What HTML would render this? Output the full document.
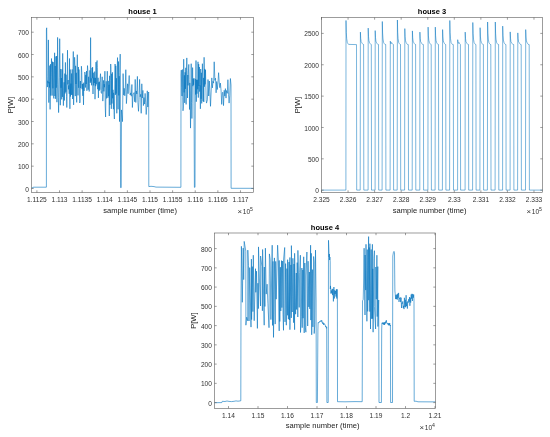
<!DOCTYPE html>
<html><head><meta charset="utf-8"><title>figure</title>
<style>
html,body{margin:0;padding:0;background:#fff;}
body{width:550px;height:437px;overflow:hidden;}
svg{display:block;font-family:"Liberation Sans",sans-serif;}
.tk{font-size:6.6px;fill:#303030;}
.lb{font-size:7.6px;fill:#222;}
.tt{font-size:7.5px;font-weight:bold;fill:#000;}
.ax{stroke:#5a5a5a;stroke-width:0.6;fill:none;}
.ln{stroke:#0072BD;fill:none;stroke-linejoin:round;}
</style></head><body>
<svg width="550" height="437" viewBox="0 0 550 437">
<rect width="550" height="437" fill="#fff"/>
<g id="ax1">
<polyline class="ln" stroke-width="0.6" points="31.5,187.9 33.0,187.8 33.2,187.2 46.0,187.2 46.4,187.2 46.4,30.0 46.7,27.8 47.1,76.8 47.4,87.1 47.8,80.8 48.1,83.2 48.4,39.9 48.8,102.6 49.1,82.0 49.5,87.5 49.8,65.6 50.1,109.4 50.5,64.2 50.8,95.6 51.2,72.9 51.5,58.5 51.8,76.1 52.2,95.6 52.5,61.7 52.9,88.3 53.2,62.1 53.5,96.5 53.9,98.5 54.2,83.1 54.6,52.8 54.9,96.1 55.2,66.0 55.6,98.8 55.9,56.5 56.3,87.7 56.6,56.0 56.9,102.2 57.3,84.7 57.6,37.4 58.0,77.0 58.3,97.5 58.6,112.6 59.0,92.2 59.3,77.3 59.7,38.7 60.0,64.9 60.3,105.2 60.7,69.0 61.0,87.8 61.4,78.0 61.7,99.4 62.0,69.4 62.4,96.9 62.7,53.4 63.1,88.0 63.4,105.6 63.7,90.3 64.1,82.3 64.4,100.5 64.8,73.6 65.1,93.4 65.4,62.4 65.8,91.8 66.1,74.7 66.5,96.5 66.8,107.5 67.1,92.9 67.5,50.2 67.8,84.4 68.2,80.0 68.5,89.3 68.8,85.4 69.2,93.8 69.5,58.5 69.9,108.8 70.2,69.5 70.5,96.5 70.9,83.6 71.2,94.7 71.6,73.5 71.9,95.0 72.2,69.4 72.6,99.0 72.9,80.0 73.3,51.5 73.6,104.9 73.9,91.8 74.3,72.7 74.6,57.3 75.0,65.6 75.3,96.1 75.6,65.8 76.0,84.0 76.3,72.8 76.7,102.4 77.0,65.8 77.3,54.7 77.7,71.5 78.0,95.4 78.4,67.0 78.7,87.8 79.0,69.5 79.4,84.0 79.7,103.0 80.1,102.0 80.4,81.0 80.7,88.1 81.1,85.5 81.4,66.2 81.8,72.5 82.1,89.2 82.4,84.0 82.8,95.8 83.1,83.7 83.5,104.9 83.8,82.7 84.1,90.9 84.5,83.3 84.8,72.0 85.2,74.1 85.5,87.5 85.8,75.1 86.2,84.0 86.5,71.0 86.9,90.8 87.2,76.0 87.5,65.6 87.9,71.1 88.2,89.7 88.6,76.8 88.9,86.9 89.2,91.5 89.6,83.2 89.9,70.4 90.3,82.8 90.6,37.6 90.9,81.5 91.3,78.3 91.6,85.3 92.0,67.9 92.3,78.2 92.6,67.1 93.0,94.0 93.3,72.7 93.7,85.4 94.0,77.8 94.3,83.0 94.7,71.6 95.0,99.2 95.4,77.9 95.7,86.2 96.0,62.1 96.4,84.3 96.7,63.3 97.1,60.5 97.4,67.3 97.7,89.2 98.1,77.8 98.4,97.9 98.8,82.3 99.1,90.9 99.4,81.7 99.8,89.7 100.1,79.5 100.5,73.7 100.8,82.3 101.1,92.4 101.5,93.4 101.8,90.6 102.2,76.8 102.5,89.3 102.8,101.1 103.2,94.5 103.5,80.4 103.9,91.4 104.2,84.2 104.5,87.2 104.9,71.2 105.2,106.0 105.6,117.0 105.9,97.8 106.2,81.3 106.6,98.4 106.9,92.8 107.3,71.2 107.6,88.1 107.9,97.8 108.3,80.9 108.6,96.2 109.0,84.8 109.3,116.0 109.6,75.8 110.0,104.9 110.3,80.3 110.7,64.0 111.0,69.6 111.3,108.8 111.7,73.8 112.0,103.5 112.4,72.3 112.7,98.3 113.0,89.8 113.4,109.2 113.7,92.8 114.1,114.5 114.4,119.0 114.7,93.6 115.1,64.0 115.4,94.9 115.8,65.8 116.1,93.6 116.4,78.2 116.8,113.3 117.1,77.9 117.5,57.6 117.8,80.0 118.1,109.3 118.5,61.5 118.8,95.4 119.2,76.2 119.5,121.6 119.8,72.5 120.2,54.1 120.6,187.6 121.2,187.6 121.5,109.9 121.9,114.5 122.5,121.6 123.1,73.6 123.7,95.1 124.2,88.3 124.8,95.8 125.3,88.5 125.8,69.7 126.4,103.6 127.0,94.5 127.5,83.8 128.1,93.7 128.6,83.8 129.2,75.5 129.7,86.1 130.2,95.0 130.8,92.9 131.3,96.2 131.9,84.5 132.4,107.5 133.0,94.2 133.6,93.8 134.1,92.6 134.7,101.8 135.2,79.4 135.8,102.5 136.3,90.9 136.8,94.0 137.4,76.4 137.9,102.5 138.5,111.3 139.1,99.3 139.6,79.4 140.2,96.8 140.7,94.3 141.2,113.3 141.8,83.8 142.3,98.0 142.9,90.4 143.4,105.6 144.0,97.6 144.6,104.1 145.1,93.4 145.7,102.7 146.2,114.5 146.8,105.9 147.3,90.8 147.8,107.0 148.4,93.4 148.7,92.0 148.8,186.6 151.0,186.3 154.0,186.6 156.0,187.1 180.9,187.3 181.0,75.0 181.3,70.1 181.7,87.8 182.0,96.0 182.4,69.5 182.7,97.7 183.0,110.8 183.4,107.0 183.7,59.2 184.1,92.4 184.4,75.3 184.7,102.9 185.1,72.3 185.4,88.9 185.8,67.8 186.1,104.4 186.4,70.2 186.8,57.9 187.1,70.7 187.5,98.0 187.8,75.0 188.1,85.4 188.5,68.9 188.8,64.4 189.2,79.3 189.5,109.5 189.8,82.9 190.2,94.0 190.5,128.1 190.9,105.3 191.2,63.7 191.5,102.5 191.9,118.5 192.2,103.3 192.6,67.6 192.9,86.2 193.2,79.1 193.6,84.8 193.9,78.1 194.4,187.3 195.0,187.3 195.3,78.9 195.6,94.5 196.0,60.5 196.3,101.7 196.6,79.8 197.0,93.7 197.3,79.8 197.7,89.3 198.0,61.8 198.3,97.6 198.7,64.1 199.0,86.0 199.4,67.0 199.7,91.6 200.0,85.4 200.4,108.8 200.7,69.0 201.1,98.8 201.4,72.8 201.7,103.4 202.1,80.2 202.4,63.7 202.8,85.7 203.1,101.2 203.4,77.9 203.8,102.0 204.1,57.3 204.5,86.7 204.8,68.9 205.1,84.4 205.5,69.9 205.8,84.7 206.2,99.9 206.5,103.1 207.4,99.9 208.0,79.5 208.7,96.0 209.3,81.0 209.9,91.9 210.5,106.3 211.1,93.0 211.8,77.9 212.4,87.9 213.0,81.3 213.6,83.1 214.2,61.8 214.9,80.4 215.5,78.2 216.1,92.8 216.7,81.5 217.3,89.5 218.0,82.1 218.6,72.7 219.2,81.9 219.8,87.7 220.4,83.1 221.1,91.0 221.7,104.4 222.3,92.7 222.9,92.2 223.5,105.6 224.2,90.3 224.8,96.1 225.4,88.6 226.0,98.1 226.6,90.5 227.3,93.3 227.9,79.7 228.5,94.6 229.1,103.1 229.7,95.7 230.4,78.5 231.0,85.0 231.1,188.3 253.5,188.3"/>
<rect class="ax" x="31.5" y="17.5" width="222.0" height="175.0"/>
<path class="ax" d="M36.90,192.5v-2.2M36.90,17.5v2.2M59.52,192.5v-2.2M59.52,17.5v2.2M82.14,192.5v-2.2M82.14,17.5v2.2M104.76,192.5v-2.2M104.76,17.5v2.2M127.38,192.5v-2.2M127.38,17.5v2.2M150.00,192.5v-2.2M150.00,17.5v2.2M172.62,192.5v-2.2M172.62,17.5v2.2M195.24,192.5v-2.2M195.24,17.5v2.2M217.86,192.5v-2.2M217.86,17.5v2.2M240.48,192.5v-2.2M240.48,17.5v2.2M31.5,188.50h2.2M253.5,188.50h-2.2M31.5,166.17h2.2M253.5,166.17h-2.2M31.5,143.84h2.2M253.5,143.84h-2.2M31.5,121.51h2.2M253.5,121.51h-2.2M31.5,99.18h2.2M253.5,99.18h-2.2M31.5,76.85h2.2M253.5,76.85h-2.2M31.5,54.52h2.2M253.5,54.52h-2.2M31.5,32.19h2.2M253.5,32.19h-2.2"/>
<text class="tk" x="36.9" y="201.9" text-anchor="middle">1.1125</text>
<text class="tk" x="59.5" y="201.9" text-anchor="middle">1.113</text>
<text class="tk" x="82.1" y="201.9" text-anchor="middle">1.1135</text>
<text class="tk" x="104.8" y="201.9" text-anchor="middle">1.114</text>
<text class="tk" x="127.4" y="201.9" text-anchor="middle">1.1145</text>
<text class="tk" x="150.0" y="201.9" text-anchor="middle">1.115</text>
<text class="tk" x="172.6" y="201.9" text-anchor="middle">1.1155</text>
<text class="tk" x="195.2" y="201.9" text-anchor="middle">1.116</text>
<text class="tk" x="217.9" y="201.9" text-anchor="middle">1.1165</text>
<text class="tk" x="240.5" y="201.9" text-anchor="middle">1.117</text>
<text class="tk" x="28.9" y="191.5" text-anchor="end">0</text>
<text class="tk" x="28.9" y="169.2" text-anchor="end">100</text>
<text class="tk" x="28.9" y="146.8" text-anchor="end">200</text>
<text class="tk" x="28.9" y="124.5" text-anchor="end">300</text>
<text class="tk" x="28.9" y="102.2" text-anchor="end">400</text>
<text class="tk" x="28.9" y="79.9" text-anchor="end">500</text>
<text class="tk" x="28.9" y="57.5" text-anchor="end">600</text>
<text class="tk" x="28.9" y="35.2" text-anchor="end">700</text>
<text class="tt" x="142.5" y="14.1" text-anchor="middle">house 1</text>
<text class="lb" x="140.1" y="212.5" text-anchor="middle">sample number (time)</text>
<text class="lb" transform="translate(12.9,105.0) rotate(-90)" text-anchor="middle">P[W]</text>
<text class="tk" x="237.5" y="214.3"><tspan font-size="7.8px">×</tspan><tspan dx="0.7">10</tspan><tspan dy="-3.3" dx="-0.2" font-size="5.2px">5</tspan></text>
</g>
<g id="ax2">
<polyline class="ln" stroke-width="0.52" points="321.5,190.1 345.9,190.1 346.0,20.5 346.3,32.5 346.7,38.7 347.3,42.5 348.0,43.7 348.6,44.4 356.5,44.6 356.7,190.1 360.2,190.1 360.4,32.1 360.7,38.3 361.1,41.5 361.7,42.5 362.4,43.7 363.0,44.4 363.6,44.6 363.8,190.1 368.1,190.1 368.2,28.1 368.5,36.3 368.9,40.6 369.5,42.5 370.2,43.7 370.8,44.4 371.3,44.6 371.5,190.1 375.1,190.1 375.2,30.6 375.5,37.5 375.9,41.2 376.5,42.5 377.2,43.7 377.8,44.4 378.5,44.6 378.7,190.1 382.1,190.1 382.3,21.5 382.6,33.0 383.0,39.0 383.6,42.5 384.3,43.7 384.9,44.4 385.7,44.6 385.9,190.1 390.1,190.1 390.3,41.2 390.6,42.9 391.0,43.7 391.6,42.5 392.3,43.7 392.9,44.4 393.4,44.6 393.6,190.1 397.2,190.1 397.4,20.0 397.7,32.2 398.1,38.6 398.7,42.5 399.4,43.7 400.0,44.4 400.5,44.6 400.7,190.1 404.6,190.1 404.8,28.6 405.1,36.5 405.5,40.7 406.1,42.5 406.8,43.7 407.4,44.4 408.3,44.6 408.5,190.1 412.2,190.1 412.4,30.9 412.7,37.7 413.1,41.2 413.7,42.5 414.4,43.7 415.0,44.4 415.6,44.6 415.8,190.1 419.8,190.1 419.9,32.1 420.2,38.3 420.6,41.5 421.2,42.5 421.9,43.7 422.5,44.4 423.4,44.6 423.6,190.1 427.9,190.1 428.1,27.1 428.4,35.8 428.8,40.3 429.4,42.5 430.1,43.7 430.7,44.4 431.2,44.6 431.4,190.1 435.1,190.1 435.3,27.1 435.6,35.8 436.0,40.3 436.6,42.5 437.3,43.7 437.9,44.4 438.5,44.6 438.7,190.1 442.4,190.1 442.6,29.6 442.9,37.0 443.3,40.9 443.9,42.5 444.6,43.7 445.2,44.4 445.7,44.6 445.9,190.1 449.6,190.1 449.8,20.5 450.1,32.5 450.5,38.7 451.1,42.5 451.8,43.7 452.4,44.4 453.3,44.6 453.5,190.1 457.6,190.1 457.7,39.7 458.0,42.1 458.4,43.4 459.0,42.5 459.7,43.7 460.3,44.4 460.4,44.6 460.6,190.1 465.1,190.1 465.2,32.1 465.5,38.3 465.9,41.5 466.5,42.5 467.2,43.7 467.8,44.4 468.5,44.6 468.7,190.1 472.6,190.1 472.8,22.5 473.1,33.5 473.5,39.2 474.1,42.5 474.8,43.7 475.4,44.4 475.9,44.6 476.1,190.1 479.9,190.1 480.1,27.7 480.4,36.1 480.8,40.5 481.4,42.5 482.1,43.7 482.7,44.4 483.4,44.6 483.6,190.1 487.4,190.1 487.6,22.0 487.9,33.2 488.3,39.1 488.9,42.5 489.6,43.7 490.2,44.4 490.8,44.6 491.0,190.1 495.1,190.1 495.3,22.0 495.6,33.2 496.0,39.1 496.6,42.5 497.3,43.7 497.9,44.4 498.6,44.6 498.8,190.1 502.6,190.1 502.7,26.1 503.0,35.3 503.4,40.1 504.0,42.5 504.7,43.7 505.3,44.4 505.9,44.6 506.1,190.1 510.1,190.1 510.2,31.9 510.5,38.2 510.9,41.5 511.5,42.5 512.2,43.7 512.8,44.4 513.7,44.6 513.9,190.1 517.6,190.1 517.8,32.9 518.1,38.7 518.5,41.7 519.1,42.5 519.8,43.7 520.4,44.4 521.2,44.6 521.4,190.1 525.5,190.1 525.7,29.6 526.0,37.0 526.4,40.9 527.0,42.5 527.7,43.7 528.3,44.4 529.2,44.6 529.4,190.1 542.5,190.1"/>
<rect class="ax" x="321.5" y="17.5" width="221.0" height="175.0"/>
<path class="ax" d="M321.50,192.5v-2.2M321.50,17.5v2.2M348.06,192.5v-2.2M348.06,17.5v2.2M374.62,192.5v-2.2M374.62,17.5v2.2M401.18,192.5v-2.2M401.18,17.5v2.2M427.74,192.5v-2.2M427.74,17.5v2.2M454.30,192.5v-2.2M454.30,17.5v2.2M480.86,192.5v-2.2M480.86,17.5v2.2M507.42,192.5v-2.2M507.42,17.5v2.2M533.98,192.5v-2.2M533.98,17.5v2.2M321.5,190.20h2.2M542.5,190.20h-2.2M321.5,158.84h2.2M542.5,158.84h-2.2M321.5,127.48h2.2M542.5,127.48h-2.2M321.5,96.12h2.2M542.5,96.12h-2.2M321.5,64.76h2.2M542.5,64.76h-2.2M321.5,33.40h2.2M542.5,33.40h-2.2"/>
<text class="tk" x="321.5" y="201.9" text-anchor="middle">2.325</text>
<text class="tk" x="348.1" y="201.9" text-anchor="middle">2.326</text>
<text class="tk" x="374.6" y="201.9" text-anchor="middle">2.327</text>
<text class="tk" x="401.2" y="201.9" text-anchor="middle">2.328</text>
<text class="tk" x="427.7" y="201.9" text-anchor="middle">2.329</text>
<text class="tk" x="454.3" y="201.9" text-anchor="middle">2.33</text>
<text class="tk" x="480.9" y="201.9" text-anchor="middle">2.331</text>
<text class="tk" x="507.4" y="201.9" text-anchor="middle">2.332</text>
<text class="tk" x="534.0" y="201.9" text-anchor="middle">2.333</text>
<text class="tk" x="318.9" y="193.2" text-anchor="end">0</text>
<text class="tk" x="318.9" y="161.8" text-anchor="end">500</text>
<text class="tk" x="318.9" y="130.5" text-anchor="end">1000</text>
<text class="tk" x="318.9" y="99.1" text-anchor="end">1500</text>
<text class="tk" x="318.9" y="67.8" text-anchor="end">2000</text>
<text class="tk" x="318.9" y="36.4" text-anchor="end">2500</text>
<text class="tt" x="432.0" y="14.1" text-anchor="middle">house 3</text>
<text class="lb" x="429.6" y="212.5" text-anchor="middle">sample number (time)</text>
<text class="lb" transform="translate(299.6,105.0) rotate(-90)" text-anchor="middle">P[W]</text>
<text class="tk" x="526.5" y="214.3"><tspan font-size="7.8px">×</tspan><tspan dx="0.7">10</tspan><tspan dy="-3.3" dx="-0.2" font-size="5.2px">5</tspan></text>
</g>
<g id="ax3">
<polyline class="ln" stroke-width="0.6" points="214.5,402.7 221.8,402.6 222.3,401.3 225.0,401.5 227.0,401.0 229.0,401.4 231.5,401.6 234.0,401.3 236.0,400.9 238.0,401.2 240.8,400.8 241.0,300.0 241.4,246.3 242.3,302.3 243.2,248.1 243.7,279.6 244.2,241.4 245.8,251.1 245.9,325.2 246.7,317.2 247.7,320.8 247.8,250.1 248.5,265.4 249.0,321.0 249.7,267.6 251.0,327.1 251.4,259.1 251.6,319.6 252.3,266.6 252.9,311.6 253.3,255.2 254.2,320.7 255.5,268.7 255.8,292.3 256.5,271.2 257.4,328.4 257.9,283.2 258.4,308.6 258.5,246.9 259.6,284.1 260.5,306.0 260.6,256.0 261.9,266.6 262.4,310.8 262.6,249.5 264.2,325.2 264.3,267.0 264.9,306.5 265.4,248.2 266.2,294.1 267.1,284.2 267.9,303.2 269.0,327.7 269.4,253.9 270.2,259.5 270.9,319.6 272.2,245.2 272.5,325.4 273.0,261.4 273.5,337.4 274.4,257.9 275.2,324.1 275.7,261.4 276.2,299.2 277.6,245.2 278.4,260.4 279.2,330.9 279.2,260.4 279.8,321.5 280.4,267.2 280.8,311.0 281.5,260.6 281.9,307.6 282.6,261.0 283.0,314.8 283.5,330.3 283.5,259.9 284.7,247.5 285.0,321.9 285.6,263.6 286.3,325.2 286.9,268.6 287.6,315.3 287.6,259.7 288.4,319.1 289.0,262.0 289.4,320.0 289.9,257.5 289.9,329.7 290.9,264.9 291.3,317.9 291.4,245.6 292.2,312.0 292.9,258.3 293.6,322.7 294.0,264.0 294.6,329.7 294.6,253.3 295.6,314.2 296.3,273.0 296.6,309.5 297.2,262.6 297.8,317.0 297.9,250.4 299.2,307.4 299.6,272.6 300.4,255.2 300.5,332.5 301.3,316.8 301.9,268.0 302.2,327.7 302.8,269.9 303.1,318.2 303.7,256.8 304.2,332.9 304.8,263.0 305.3,327.1 305.9,332.2 305.9,276.0 306.9,252.0 307.7,326.0 308.1,261.2 308.8,306.9 309.4,272.0 309.8,308.9 310.6,245.2 310.8,320.1 311.3,253.3 311.7,334.8 312.4,269.6 312.9,326.9 313.6,256.5 314.2,261.8 314.2,333.5 314.8,324.3 315.5,250.1 316.1,300.0 316.3,402.5 317.4,402.5 317.9,330.0 318.1,323.0 318.3,322.3 318.6,322.9 319.0,322.8 319.4,322.4 319.7,321.3 320.1,322.0 320.4,321.6 320.8,321.1 321.1,320.2 321.4,321.5 321.8,320.5 322.1,322.4 322.5,321.9 322.9,324.0 323.2,322.7 323.6,324.9 323.9,323.6 324.2,324.0 324.6,323.8 324.9,325.1 325.3,325.2 325.6,326.9 326.0,326.1 326.4,328.3 326.7,327.2 326.9,402.5 328.2,402.5 328.4,300.0 328.5,240.3 328.9,250.0 329.2,257.0 329.4,254.0 329.6,260.0 329.9,257.0 330.2,262.0 330.3,289.0 330.5,285.9 330.9,293.5 331.3,290.4 331.8,293.4 332.2,288.8 332.6,295.1 333.0,289.1 333.4,301.4 333.9,287.0 334.3,298.5 334.7,290.3 335.1,294.1 335.5,290.9 336.0,296.6 336.4,289.3 336.8,298.5 337.2,289.3 337.4,300.0 337.5,401.7 345.0,401.8 355.0,401.6 362.2,401.7 362.5,300.8 363.2,299.5 363.6,283.0 364.1,248.2 365.0,315.0 365.1,255.0 365.7,290.1 366.0,244.3 366.9,321.3 367.3,249.6 367.7,311.4 368.6,236.6 368.7,300.2 369.2,247.5 369.8,311.6 369.9,243.7 370.5,329.0 371.2,249.5 371.6,318.8 372.4,244.3 372.5,318.7 372.8,268.8 373.1,332.2 373.9,258.3 374.4,250.7 374.4,306.4 375.6,329.0 375.8,267.0 376.3,299.2 376.9,255.2 377.2,316.6 377.8,266.6 377.9,326.5 378.7,300.0 379.0,402.5 381.4,402.5 381.7,330.0 381.9,323.4 382.1,322.8 382.4,323.7 382.8,322.5 383.1,324.2 383.5,322.9 383.9,324.9 384.2,322.1 384.6,324.9 384.9,322.8 385.2,323.5 385.6,321.6 385.9,323.2 386.3,320.2 386.6,322.3 387.0,322.7 387.4,323.9 387.7,323.4 388.1,324.7 388.4,323.5 388.8,325.4 389.1,323.0 389.4,324.9 389.8,323.3 390.1,325.8 390.4,325.0 390.6,402.5 392.5,402.5 392.7,300.0 392.8,256.0 393.4,252.5 394.0,251.4 394.5,253.0 394.8,285.0 394.9,291.0 395.2,293.6 395.6,299.1 396.0,294.9 396.5,299.1 396.9,294.5 397.3,299.6 397.7,293.7 398.1,297.8 398.6,292.9 399.0,301.9 399.4,298.1 399.8,298.8 400.2,297.3 400.7,302.1 401.1,297.7 401.5,308.0 401.9,302.7 402.3,303.7 402.8,301.4 403.2,308.0 403.6,305.8 404.0,309.1 404.4,297.8 404.9,306.9 405.3,299.8 405.7,307.3 406.1,295.2 406.5,306.1 407.0,302.3 407.4,308.6 407.8,301.4 408.2,302.7 408.6,299.3 409.1,301.8 409.5,297.1 409.9,305.8 410.3,297.7 410.7,302.6 411.2,294.5 411.6,298.7 412.0,293.8 412.4,301.0 412.8,294.1 413.3,297.7 413.7,294.6 414.0,300.0 414.2,401.3 416.0,401.2 418.0,401.8 435.5,401.9"/>
<rect class="ax" x="214.5" y="233.0" width="221.0" height="175.3"/>
<path class="ax" d="M228.50,408.3v-2.2M228.50,233.0v2.2M258.00,408.3v-2.2M258.00,233.0v2.2M287.50,408.3v-2.2M287.50,233.0v2.2M317.00,408.3v-2.2M317.00,233.0v2.2M346.50,408.3v-2.2M346.50,233.0v2.2M376.00,408.3v-2.2M376.00,233.0v2.2M405.50,408.3v-2.2M405.50,233.0v2.2M435.00,408.3v-2.2M435.00,233.0v2.2M214.5,402.60h2.2M435.5,402.60h-2.2M214.5,383.35h2.2M435.5,383.35h-2.2M214.5,364.10h2.2M435.5,364.10h-2.2M214.5,344.85h2.2M435.5,344.85h-2.2M214.5,325.60h2.2M435.5,325.60h-2.2M214.5,306.35h2.2M435.5,306.35h-2.2M214.5,287.10h2.2M435.5,287.10h-2.2M214.5,267.85h2.2M435.5,267.85h-2.2M214.5,248.60h2.2M435.5,248.60h-2.2"/>
<text class="tk" x="228.5" y="417.7" text-anchor="middle">1.14</text>
<text class="tk" x="258.0" y="417.7" text-anchor="middle">1.15</text>
<text class="tk" x="287.5" y="417.7" text-anchor="middle">1.16</text>
<text class="tk" x="317.0" y="417.7" text-anchor="middle">1.17</text>
<text class="tk" x="346.5" y="417.7" text-anchor="middle">1.18</text>
<text class="tk" x="376.0" y="417.7" text-anchor="middle">1.19</text>
<text class="tk" x="405.5" y="417.7" text-anchor="middle">1.2</text>
<text class="tk" x="435.0" y="417.7" text-anchor="middle">1.21</text>
<text class="tk" x="211.9" y="405.6" text-anchor="end">0</text>
<text class="tk" x="211.9" y="386.4" text-anchor="end">100</text>
<text class="tk" x="211.9" y="367.1" text-anchor="end">200</text>
<text class="tk" x="211.9" y="347.9" text-anchor="end">300</text>
<text class="tk" x="211.9" y="328.6" text-anchor="end">400</text>
<text class="tk" x="211.9" y="309.4" text-anchor="end">500</text>
<text class="tk" x="211.9" y="290.1" text-anchor="end">600</text>
<text class="tk" x="211.9" y="270.9" text-anchor="end">700</text>
<text class="tk" x="211.9" y="251.6" text-anchor="end">800</text>
<text class="tt" x="325.0" y="229.6" text-anchor="middle">house 4</text>
<text class="lb" x="322.6" y="428.3" text-anchor="middle">sample number (time)</text>
<text class="lb" transform="translate(195.9,320.6) rotate(-90)" text-anchor="middle">P[W]</text>
<text class="tk" x="419.5" y="430.1"><tspan font-size="7.8px">×</tspan><tspan dx="0.7">10</tspan><tspan dy="-3.3" dx="-0.2" font-size="5.2px">4</tspan></text>
</g>
</svg></body></html>
